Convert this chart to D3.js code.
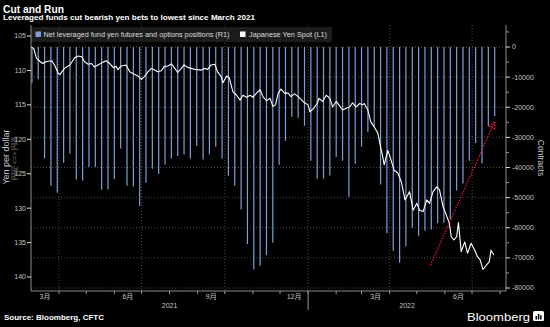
<!DOCTYPE html>
<html><head><meta charset="utf-8">
<script src="https://cdn.jsdelivr.net/npm/d3@7"></script>
<style>
html,body{margin:0;padding:0;background:#000;}
svg{display:block;font-family:"Liberation Sans","Noto Sans CJK JP",sans-serif;}
</style></head><body>
<svg id="c" width="550" height="327"></svg>
<script>
// ---- data ----
const barStart = "2021-03-02"; // weekly CFTC reports (Tuesdays)
const barValues = [-12060,-10740,-37000,-46070,-48400,-38430,-35440,-43960,-44300,-39760,
  -39870,-47400,-47290,-43850,-33660,-46070,-46290,-52700,-45070,-40420,
  -42190,-38980,-37000,-36210,-35660,-37000,-32890,-37320,-35660,-33110,
  -37000,-42740,-46070,-53930,-65450,-73870,-72650,-69100,-65010,-39090,
  -31120,-23150,-23480,-26140,-37760,-43740,-43740,-42630,-36540,-37760,
  -49720,-38870,-33110,-28240,-26470,-45630,-61910,-67660,-71650,-66110,
  -60020,-62680,-61020,-60570,-58470,-58360,-57470,-47610,-45290,-37760,
  -31890,-38650,-26250,-22920];
const spotData = [["2021-03-01",106.6],["2021-03-04",106.8],["2021-03-07",108.2],["2021-03-11",108.7],["2021-03-14",109.0],["2021-03-18",108.7],["2021-03-24",108.6],["2021-03-27",109.2],["2021-03-31",110.4],["2021-04-02",110.6],["2021-04-04",110.2],["2021-04-07",109.7],["2021-04-13",109.2],["2021-04-18",108.2],["2021-04-22",107.9],["2021-04-26",108.0],["2021-04-29",108.7],["2021-05-03",109.1],["2021-05-07",109.0],["2021-05-10",109.5],["2021-05-14",109.2],["2021-05-18",108.9],["2021-05-23",108.6],["2021-05-27",109.0],["2021-05-31",109.6],["2021-06-03",109.4],["2021-06-05",109.9],["2021-06-08",109.4],["2021-06-14",109.2],["2021-06-18",110.2],["2021-06-21",110.4],["2021-06-27",110.8],["2021-07-01",111.3],["2021-07-05",110.8],["2021-07-08",110.2],["2021-07-12",109.7],["2021-07-15",109.9],["2021-07-19",110.2],["2021-07-23",110.05],["2021-07-26",109.45],["2021-07-30",109.35],["2021-08-03",109.05],["2021-08-06",109.55],["2021-08-10",110.3],["2021-08-14",109.7],["2021-08-17",109.2],["2021-08-21",109.55],["2021-08-29",109.85],["2021-09-05",109.95],["2021-09-09",109.7],["2021-09-12",109.85],["2021-09-16",109.2],["2021-09-20",109.1],["2021-09-23",110.2],["2021-09-27",110.9],["2021-09-29",111.8],["2021-10-03",110.8],["2021-10-06",111.1],["2021-10-10",113.1],["2021-10-14",113.6],["2021-10-18",114.3],["2021-10-21",113.6],["2021-10-25",113.9],["2021-10-29",113.6],["2021-11-01",113.9],["2021-11-05",113.3],["2021-11-09",112.8],["2021-11-12",113.8],["2021-11-16",114.4],["2021-11-20",114.05],["2021-11-23",115.2],["2021-11-26",115.0],["2021-11-29",113.3],["2021-12-02",112.7],["2021-12-06",113.3],["2021-12-10",113.3],["2021-12-13",113.8],["2021-12-17",113.4],["2021-12-21",113.8],["2021-12-25",114.3],["2021-12-28",114.7],["2022-01-01",115.0],["2022-01-03",116.0],["2022-01-07",115.5],["2022-01-11",114.8],["2022-01-13",114.05],["2022-01-17",114.5],["2022-01-21",113.6],["2022-01-25",114.05],["2022-01-28",115.3],["2022-02-01",114.5],["2022-02-04",115.0],["2022-02-08",115.75],["2022-02-12",115.5],["2022-02-16",115.3],["2022-02-19",114.7],["2022-02-23",115.3],["2022-02-27",114.8],["2022-03-02",115.0],["2022-03-04",114.8],["2022-03-08",115.75],["2022-03-11",117.4],["2022-03-15",118.2],["2022-03-19",119.1],["2022-03-22",121.1],["2022-03-24",122.3],["2022-03-26",123.7],["2022-03-30",121.6],["2022-04-03",123.2],["2022-04-06",124.5],["2022-04-10",124.9],["2022-04-14",126.2],["2022-04-18",128.8],["2022-04-21",128.1],["2022-04-23",127.6],["2022-04-27",130.3],["2022-05-01",129.3],["2022-05-04",130.3],["2022-05-08",130.5],["2022-05-12",128.8],["2022-05-15",129.3],["2022-05-19",127.6],["2022-05-23",126.9],["2022-05-26",127.3],["2022-05-30",129.8],["2022-06-02",130.8],["2022-06-06",132.2],["2022-06-08",134.15],["2022-06-11",134.6],["2022-06-14",134.15],["2022-06-16",132.1],["2022-06-19",136.3],["2022-06-23",134.9],["2022-06-26",136.55],["2022-06-30",135.1],["2022-07-04",136.1],["2022-07-07",137.05],["2022-07-10",137.5],["2022-07-13",138.9],["2022-07-17",138.25],["2022-07-20",137.8],["2022-07-22",136.1],["2022-07-25",136.8]];
const leftTicks = [105,110,115,120,125,130,135,140];
const rightTicks = [0,-10000,-20000,-30000,-40000,-50000,-60000,-70000,-80000];
const monthLabels = ["3月","6月","9月","12月","3月","6月"];
const monthLabelDates = ["2021-03-01","2021-06-01","2021-09-01","2021-12-01","2022-03-01","2022-06-01"];
const yearLabels = ["2021","2022"];
const gridDates = ["2021-04-01","2021-07-01","2021-10-01","2022-01-01","2022-04-01","2022-07-01"];
const arrowFrom = ["2022-05-16",-72400];
const arrowTo = ["2022-07-26",-24800];
const title = "Cut and Run";
const subtitle = "Leveraged funds cut bearish yen bets to lowest since March 2021";
const legendBar = "Net leveraged fund yen futures and options positions (R1)";
const legendLine = "Japanese Yen Spot (L1)";

// ---- setup ----
const parse = d3.timeParse("%Y-%m-%d");
const svg = d3.select("#c");
const L = 31, R = 506, T = 25, B = 291;
const x = d3.scaleTime().domain([parse("2021-03-01"), new Date(2022,7,7,12)]).range([L, R]);
const yL = d3.scaleLinear().domain([103.4, 142.03]).range([T, B]);
const yR = d3.scaleLinear().domain([7300, -81000]).range([T, B]);
const BAR = "#7f9dd8", GRID = "#4a4a4a", TXT = "#c4c4c4";

svg.append("rect").attr("width",550).attr("height",327).attr("fill","#000");

// titles
svg.append("text").attr("x",3).attr("y",12.5).attr("fill","#fff").attr("font-size",11).attr("font-weight","bold")
  .attr("textLength",61).attr("lengthAdjust","spacingAndGlyphs").text(title);
svg.append("text").attr("x",3).attr("y",20).attr("fill","#fff").attr("font-size",7.6).attr("font-weight","bold")
  .attr("textLength",252).attr("lengthAdjust","spacingAndGlyphs").text(subtitle);

// gridlines
svg.append("g").selectAll("line").data(rightTicks).join("line")
  .attr("x1",L).attr("x2",R).attr("y1",d=>yR(d)).attr("y2",d=>yR(d))
  .attr("stroke",GRID).attr("stroke-dasharray","1,2");
svg.append("g").selectAll("line").data(gridDates).join("line")
  .attr("x1",d=>x(parse(d))).attr("x2",d=>x(parse(d))).attr("y1",T).attr("y2",B)
  .attr("stroke",GRID).attr("stroke-dasharray","1,2");

// bars
const bars = barValues.map((v,i)=>({date:d3.timeDay.offset(parse(barStart),7*i), v}));
svg.append("g").selectAll("line").data(bars).join("line")
  .attr("x1",d=>x(d.date)).attr("x2",d=>x(d.date))
  .attr("y1",yR(0)).attr("y2",d=>yR(d.v))
  .attr("stroke",BAR).attr("stroke-width",1.2);

// spot line
const line = d3.line().x(d=>x(parse(d[0]))).y(d=>yL(d[1]));
svg.append("path").datum(spotData).attr("d",line).attr("fill","none")
  .attr("stroke","#fff").attr("stroke-width",1.1).attr("stroke-linejoin","round");

// arrow annotation
const ax1 = x(parse(arrowFrom[0])), ay1 = yR(arrowFrom[1]);
const ax2 = x(parse(arrowTo[0])), ay2 = yR(arrowTo[1]);
svg.append("line").attr("x1",ax1).attr("y1",ay1).attr("x2",ax2).attr("y2",ay2)
  .attr("stroke","#e8163f").attr("stroke-width",1.4).attr("stroke-dasharray","1.3,1.3");
const ang = Math.atan2(ay2-ay1, ax2-ax1), hl = 7;
const p1 = [ax2 - hl*Math.cos(ang-0.4), ay2 - hl*Math.sin(ang-0.4)];
const p2 = [ax2 - hl*Math.cos(ang+0.4), ay2 - hl*Math.sin(ang+0.4)];
svg.append("path").attr("d",`M${p1}L${ax2},${ay2}L${p2}Z`).attr("fill","none")
  .attr("stroke","#e8163f").attr("stroke-width",1.4).attr("stroke-dasharray","1.3,1.3");

// legend
const lg = svg.append("g");
lg.append("rect").attr("x",L).attr("y",27).attr("width",301).attr("height",15).attr("fill","#1c1c1c");
lg.append("rect").attr("x",35.5).attr("y",31.5).attr("width",5.5).attr("height",5.5).attr("fill",BAR);
lg.append("text").attr("x",43.5).attr("y",37.3).attr("font-size",7).attr("fill","#ddd")
  .attr("textLength",186).attr("lengthAdjust","spacingAndGlyphs").text(legendBar);
lg.append("rect").attr("x",240).attr("y",31.5).attr("width",5.5).attr("height",5.5).attr("fill","#fff");
lg.append("text").attr("x",249).attr("y",37.3).attr("font-size",7).attr("fill","#ddd")
  .attr("textLength",78).attr("lengthAdjust","spacingAndGlyphs").text(legendLine);

// axes lines
const ax = svg.append("g").attr("stroke","#8a8a8a");
ax.append("line").attr("x1",L).attr("x2",L).attr("y1",T).attr("y2",B);
ax.append("line").attr("x1",R).attr("x2",R).attr("y1",T).attr("y2",B);
ax.append("line").attr("x1",L).attr("x2",R).attr("y1",B).attr("y2",B);

// left axis
svg.append("g").selectAll("line").data(leftTicks).join("line")
  .attr("x1",27).attr("x2",L).attr("y1",d=>yL(d)).attr("y2",d=>yL(d)).attr("stroke","#ddd");
svg.append("g").selectAll("text").data(leftTicks).join("text")
  .attr("x",26).attr("y",d=>yL(d)).attr("dy","0.35em").attr("text-anchor","end")
  .attr("font-size",7).attr("fill",TXT).text(d=>d);
// right axis
const minor = d3.range(5000,-80001,-5000);
svg.append("g").selectAll("line").data(minor).join("line")
  .attr("x1",R).attr("x2",d=>d%10000===0?R+4:R+3).attr("y1",d=>yR(d)).attr("y2",d=>yR(d))
  .attr("stroke",d=>d%10000===0?"#ddd":"#999");
svg.append("g").selectAll("text").data(rightTicks).join("text")
  .attr("x",512).attr("y",d=>yR(d)).attr("dy","0.35em")
  .attr("font-size",7).attr("fill",TXT).text(d=>d);

// x axis
const months = d3.timeMonth.range(parse("2021-04-01"), parse("2022-08-02"));
svg.append("g").selectAll("line").data(months).join("line")
  .attr("x1",d=>x(d)).attr("x2",d=>x(d)).attr("y1",B).attr("y2",B+3).attr("stroke","#999");
svg.append("g").selectAll("text").data(monthLabels).join("text")
  .attr("x",(d,i)=>{const m=parse(monthLabelDates[i]); return (x(m)+x(d3.timeMonth.offset(m,1)))/2;})
  .attr("y",299).attr("text-anchor","middle").attr("font-size",7).attr("fill",TXT).text(d=>d);
const yStart = [parse("2021-03-01"), parse("2022-01-01")];
const yEnd = [parse("2022-01-01"), x.domain()[1]];
svg.append("g").selectAll("text").data(yearLabels).join("text")
  .attr("x",(d,i)=>(x(yStart[i])+x(yEnd[i]))/2).attr("y",307.5).attr("text-anchor","middle")
  .attr("font-size",7).attr("fill",TXT).text(d=>d);
svg.append("line").attr("x1",x(parse("2022-01-01"))).attr("x2",x(parse("2022-01-01")))
  .attr("y1",B).attr("y2",310).attr("stroke","#999");

// axis titles
svg.append("text").attr("transform","translate(9,157) rotate(-90)").attr("text-anchor","middle")
  .attr("font-size",9).attr("fill",TXT).text("Yen per dollar");
svg.append("text").attr("transform","translate(16.5,158) rotate(-90)").attr("text-anchor","middle")
  .attr("font-size",7).attr("fill","#777").text("円安 <=> 円高");
svg.append("text").attr("transform","translate(538,158) rotate(90)").attr("text-anchor","middle")
  .attr("font-size",8.5).attr("fill",TXT).text("Contracts");

// footer
svg.append("text").attr("x",4).attr("y",320).attr("font-size",7.5).attr("font-weight","bold").attr("fill","#fff")
  .attr("textLength",100).attr("lengthAdjust","spacingAndGlyphs").text("Source: Bloomberg, CFTC");
svg.append("text").attr("x",467).attr("y",320.5).attr("font-size",11).attr("fill","#fff")
  .attr("textLength",63).attr("lengthAdjust","spacingAndGlyphs").text("Bloomberg");
const ic = svg.append("g").attr("transform","translate(533,311)");
ic.append("rect").attr("width",11).attr("height",10).attr("rx",1.5).attr("fill","#fff");
[[2.5,5,1.5,3.5],[4.8,3,1.5,5.5],[7.1,4.2,1.5,4.3]].forEach(b=>ic.append("rect")
  .attr("x",b[0]).attr("y",b[1]).attr("width",b[2]).attr("height",b[3]).attr("fill","#000"));
</script></body></html>
